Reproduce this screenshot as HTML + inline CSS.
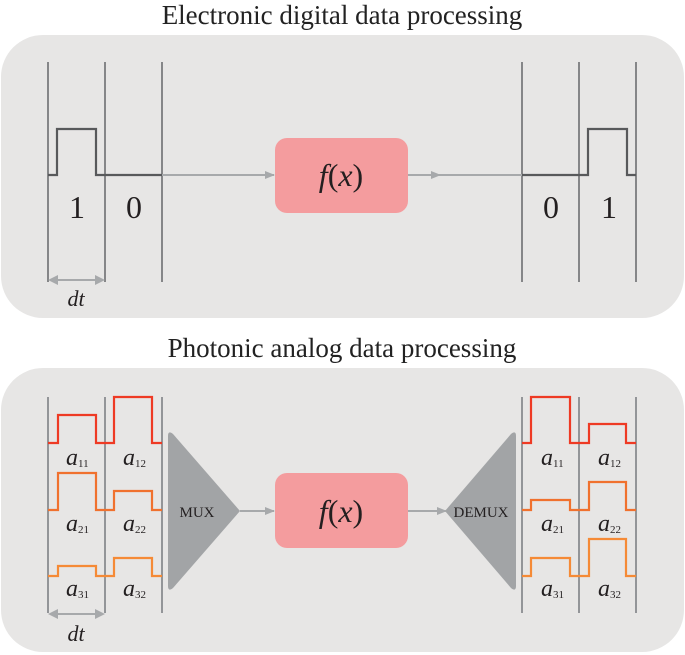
<!DOCTYPE html>
<html><head><meta charset="utf-8"><style>
html,body{margin:0;padding:0;background:#fff;width:685px;height:655px;overflow:hidden}
svg text{font-family:"Liberation Serif","DejaVu Serif",serif}
</style></head><body>
<svg width="685" height="655" viewBox="0 0 685 655" xmlns="http://www.w3.org/2000/svg">
<defs>
<marker id="ah" markerWidth="10" markerHeight="8" refX="9" refY="4" orient="auto" markerUnits="userSpaceOnUse"><path d="M0,0 L10,4 L0,8 z" fill="#a7a9ab"/></marker>
</defs>
<text x="342" y="24" font-size="27" text-anchor="middle" fill="#222">Electronic digital data processing</text>
<rect x="1" y="35" width="683" height="283" rx="42" fill="#e7e6e5"/>
<g stroke="#6d6e70" stroke-width="1.6" fill="none">
<line x1="48" y1="62" x2="48" y2="282"/><line x1="105" y1="62" x2="105" y2="282"/><line x1="162" y1="62" x2="162" y2="282"/>
<line x1="522" y1="62" x2="522" y2="282"/><line x1="579" y1="62" x2="579" y2="282"/><line x1="636" y1="62" x2="636" y2="282"/>
<polyline points="48,175 57,175 57,129 96,129 96,175 162,175" stroke-width="2.2" stroke="#58595b"/>
<polyline points="522,175 588,175 588,129 627,129 627,175 636,175" stroke-width="2.2" stroke="#58595b"/>
</g>
<g stroke="#a7a9ab" stroke-width="2">
<line x1="162" y1="175" x2="274" y2="175" marker-end="url(#ah)"/><line x1="408" y1="175" x2="522" y2="175"/>
<line x1="408" y1="175" x2="440" y2="175" marker-end="url(#ah)"/>
<line x1="50" y1="280" x2="103" y2="280"/>
</g>
<path d="M48,280 l10,-5 v10z M105,280 l-10,-5 v10z" fill="#a7a9ab"/>
<rect x="275" y="138" width="133" height="75" rx="12" fill="#f49c9e"/>
<text x="341" y="186" font-size="32" font-style="italic" text-anchor="middle" fill="#231f20">f<tspan font-style="normal">(</tspan>x<tspan font-style="normal">)</tspan></text>
<g font-size="32" fill="#231f20" text-anchor="middle">
<text x="77" y="218">1</text><text x="134" y="218">0</text><text x="551" y="218">0</text><text x="609" y="218">1</text>
</g>
<text x="76" y="306" font-size="22" font-style="italic" text-anchor="middle" fill="#231f20">dt</text>

<text x="342" y="357" font-size="27" text-anchor="middle" fill="#222">Photonic analog data processing</text>
<rect x="1" y="368" width="683" height="284" rx="42" fill="#e7e6e5"/>
<g stroke="#939598" stroke-width="2" fill="none">
<line x1="48" y1="397" x2="48" y2="613"/><line x1="105" y1="397" x2="105" y2="613"/><line x1="162" y1="397" x2="162" y2="613"/>
<line x1="522" y1="397" x2="522" y2="613"/><line x1="579" y1="397" x2="579" y2="613"/><line x1="636" y1="397" x2="636" y2="613"/>
</g>
<g fill="none" stroke-width="2.2">
<polyline stroke="#ee3a24" points="48,443 58,443 58,415 96,415 96,443 114,443 114,397 152,397 152,443 162,443"/>
<polyline stroke="#f0712e" points="48,510 58,510 58,473 96,473 96,510 114,510 114,491 152,491 152,510 162,510"/>
<polyline stroke="#f58a36" points="48,576 58,576 58,566 96,566 96,576 114,576 114,558 152,558 152,576 162,576"/>
<polyline stroke="#ee3a24" points="522,443 531,443 531,397 570,397 570,443 589,443 589,424 626,424 626,443 636,443"/>
<polyline stroke="#f0712e" points="522,510 531,510 531,500 570,500 570,510 589,510 589,482 626,482 626,510 636,510"/>
<polyline stroke="#f58a36" points="522,576 531,576 531,558 570,558 570,576 589,576 589,539 626,539 626,576 636,576"/>
</g>
<path d="M168,436 Q168,430 173,434 L240,511 L173,588 Q168,592 168,586 Z" fill="#a2a4a6"/>
<path d="M516,436 Q516,430 511,434 L445,511 L511,588 Q516,592 516,586 Z" fill="#a2a4a6"/>
<text x="197" y="517" font-size="15" fill="#231f20" text-anchor="middle">MUX</text>
<text x="481" y="517" font-size="15" fill="#231f20" text-anchor="middle">DEMUX</text>
<g stroke="#a7a9ab" stroke-width="2">
<line x1="240" y1="511" x2="274" y2="511" marker-end="url(#ah)"/>
<line x1="408" y1="511" x2="446" y2="511" marker-end="url(#ah)"/>
<line x1="50" y1="614" x2="103" y2="614"/>
</g>
<path d="M48,614 l10,-5 v10z M105,614 l-10,-5 v10z" fill="#a7a9ab"/>
<rect x="275" y="473" width="133" height="75" rx="12" fill="#f49c9e"/>
<text x="341" y="522" font-size="32" font-style="italic" text-anchor="middle" fill="#231f20">f<tspan font-style="normal">(</tspan>x<tspan font-style="normal">)</tspan></text>
<g font-size="24" font-style="italic" fill="#231f20">
<text x="66" y="465">a<tspan font-size="11" font-style="normal" dy="2">11</tspan></text>
<text x="123" y="465">a<tspan font-size="11" font-style="normal" dy="2">12</tspan></text>
<text x="66" y="531">a<tspan font-size="11" font-style="normal" dy="2">21</tspan></text>
<text x="123" y="531">a<tspan font-size="11" font-style="normal" dy="2">22</tspan></text>
<text x="66" y="596">a<tspan font-size="11" font-style="normal" dy="2">31</tspan></text>
<text x="123" y="596">a<tspan font-size="11" font-style="normal" dy="2">32</tspan></text>
<text x="541" y="465">a<tspan font-size="11" font-style="normal" dy="2">11</tspan></text>
<text x="598" y="465">a<tspan font-size="11" font-style="normal" dy="2">12</tspan></text>
<text x="541" y="531">a<tspan font-size="11" font-style="normal" dy="2">21</tspan></text>
<text x="598" y="531">a<tspan font-size="11" font-style="normal" dy="2">22</tspan></text>
<text x="541" y="596">a<tspan font-size="11" font-style="normal" dy="2">31</tspan></text>
<text x="598" y="596">a<tspan font-size="11" font-style="normal" dy="2">32</tspan></text>
</g>
<text x="76" y="641" font-size="22" font-style="italic" text-anchor="middle" fill="#231f20">dt</text>
</svg>
</body></html>
